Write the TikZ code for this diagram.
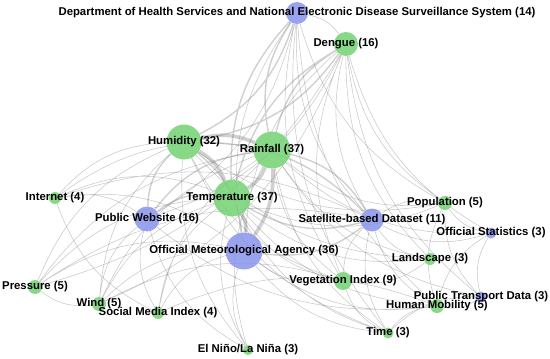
\documentclass[tikz,border=0pt]{standalone}
\usepackage{fontspec}
\setmainfont{Liberation Sans}
\usepackage{xcolor}
\usepackage{tikz}
\usetikzlibrary{backgrounds}
\definecolor{topicgreen}{RGB}{118, 212, 118}
\definecolor{sourceblue}{RGB}{140, 150, 235}
\definecolor{linkgray}{RGB}{120, 120, 120}

\begin{document}
\begin{tikzpicture}[x=1pt,y=-1pt,
  topic/.style={circle,fill=topicgreen,fill opacity=0.88,draw=none,inner sep=0pt,minimum size=#1},
  source/.style={circle,fill=sourceblue,fill opacity=0.88,draw=none,inner sep=0pt,minimum size=#1},
  lbl/.style={font=\fontsize{11.35}{12}\selectfont\bfseries,inner sep=0pt},
  link/.style={linkgray,opacity=0.4,line width=0.55pt,bend left=22},
  branch/.style={linkgray,opacity=0.35,line width=1.4pt,bend left=22},
  trunk/.style={linkgray,opacity=0.35,line width=3.6pt,bend left=18}]
\useasboundingbox (0,0) rectangle (550,359);
% nodes
\node[source=22pt] (dhs) at (297,13) {};
\node[topic=24pt] (deng) at (346,44) {};
\node[topic=35pt] (hum) at (184,142) {};
\node[topic=37pt] (rain) at (272,150) {};
\node[topic=37pt] (temp) at (232,198) {};
\node[source=37pt] (oma) at (244,251) {};
\node[source=25pt] (web) at (147,219) {};
\node[topic=12pt] (inet) at (55,198) {};
\node[topic=14pt] (pres) at (35,287) {};
\node[topic=14pt] (wind) at (99,304) {};
\node[topic=12pt] (smi) at (158,313) {};
\node[topic=10pt] (enso) at (248,350) {};
\node[topic=14pt] (pop) at (445,203) {};
\node[source=23pt] (sat) at (372,220) {};
\node[source=11pt] (ostat) at (491,233) {};
\node[topic=12pt] (land) at (430,259) {};
\node[topic=18pt] (veg) at (343,281) {};
\node[source=11pt] (ptd) at (481,297) {};
\node[topic=14pt] (hmob) at (437,306) {};
\node[topic=11pt] (time) at (388,333) {};
% connections
\begin{scope}[on background layer]
\draw[trunk] (hum) to (rain) (rain) to (temp) (hum) to (temp) (temp) to (oma) (rain) to (oma);
\draw[branch] (hum) to (oma) (rain) to (deng) (deng) to (hum) (temp) to (deng) (rain) to (dhs) (dhs) to (hum) (temp) to (dhs)
  (web) to (temp) (web) to (hum) (web) to (rain) (sat) to (temp) (rain) to (sat) (sat) to (oma) (hum) to (sat);
\draw[link] (dhs) to (deng) (oma) to (dhs) (sat) to (dhs) (veg) to (dhs) (dhs) to (web) (pop) to (dhs) (hmob) to (dhs) (time) to (dhs);
\draw[link] (oma) to (deng) (sat) to (deng) (veg) to (deng) (pop) to (deng) (ostat) to (deng) (ptd) to (deng) (land) to (deng)
  (deng) to (web) (deng) to (wind) (deng) to (pres);
\draw[link] (inet) to (hum) (inet) to (temp) (inet) to (rain) (smi) to (inet) (inet) to (web) (inet) to (sat) (inet) to (oma);
\draw[link] (pres) to (hum) (pres) to (temp) (pres) to (rain) (pres) to (oma) (wind) to (pres) (pres) to (sat);
\draw[link] (wind) to (hum) (wind) to (temp) (wind) to (rain) (wind) to (oma) (wind) to (web) (wind) to (veg);
\draw[link] (smi) to (web) (smi) to (temp) (smi) to (hmob) (smi) to (oma) (smi) to (rain);
\draw[link] (enso) to (rain) (enso) to (temp) (enso) to (oma) (enso) to (hum) (enso) to (web);
\draw[link] (veg) to (sat) (veg) to (rain) (veg) to (temp) (veg) to (hum) (land) to (veg) (time) to (veg) (veg) to (oma);
\draw[link] (ostat) to (pop) (hmob) to (pop) (sat) to (pop) (pop) to (temp) (pop) to (rain) (pop) to (hum);
\draw[link] (ptd) to (ostat) (hmob) to (ostat) (ostat) to (rain) (ostat) to (sat);
\draw[link] (land) to (sat) (land) to (rain) (land) to (temp) (land) to (hum);
\draw[link] (ptd) to (hmob) (ptd) to (pop) (time) to (ptd) (ptd) to (rain);
\draw[link] (time) to (hmob) (hmob) to (sat) (hmob) to (web) (hmob) to (oma) (hmob) to (temp);
\draw[link] (time) to (rain) (time) to (temp) (time) to (hum) (time) to (oma) (time) to (sat);
\end{scope}
% labels
\node[lbl] (dhs-t) at (dhs) {Department of Health Services and National Electronic Disease Surveillance System (14)};
\node[lbl] (deng-t) at (deng) {Dengue (16)};
\node[lbl] (hum-t) at (hum) {Humidity (32)};
\node[lbl] (rain-t) at (rain) {Rainfall (37)};
\node[lbl] (temp-t) at (temp) {Temperature (37)};
\node[lbl] (oma-t) at (oma) {Official Meteorological Agency (36)};
\node[lbl] (web-t) at (web) {Public Website (16)};
\node[lbl] (inet-t) at (inet) {Internet (4)};
\node[lbl] (pres-t) at (pres) {Pressure (5)};
\node[lbl] (wind-t) at (wind) {Wind (5)};
\node[lbl] (smi-t) at (smi) {Social Media Index (4)};
\node[lbl] (enso-t) at (enso) {El Niño/La Niña (3)};
\node[lbl] (pop-t) at (pop) {Population (5)};
\node[lbl] (sat-t) at (sat) {Satellite-based Dataset (11)};
\node[lbl] (ostat-t) at (ostat) {Official Statistics (3)};
\node[lbl] (land-t) at (land) {Landscape (3)};
\node[lbl] (veg-t) at (veg) {Vegetation Index (9)};
\node[lbl] (ptd-t) at (ptd) {Public Transport Data (3)};
\node[lbl] (hmob-t) at (hmob) {Human Mobility (5)};
\node[lbl] (time-t) at (time) {Time (3)};
\end{tikzpicture}
\end{document}
